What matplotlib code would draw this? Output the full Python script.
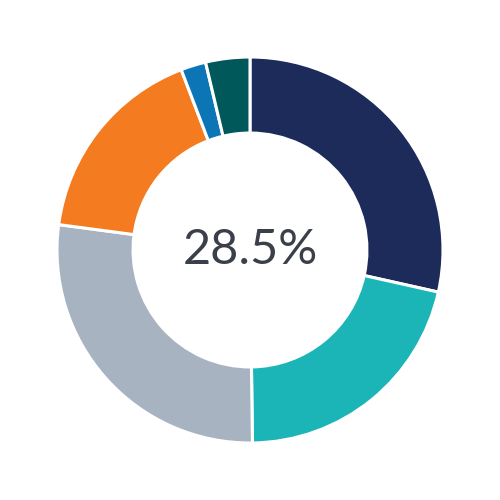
import matplotlib
matplotlib.use("Agg")
from matplotlib import pyplot as plt

# доли сегментов (по часовой стрелке от верха)
shares = [28.5, 21.3, 27.3, 17.1, 2.1, 3.7]
colors = ["#1c2b5a", "#1bb5b8", "#a8b3c2", "#f47b20", "#0b75b6", "#00585a"]
center_label = "28.5%"

fig = plt.figure(figsize=(5, 5), dpi=100)
ax = fig.add_axes([0, 0, 1, 1])
ax.pie(shares, colors=colors, startangle=90, counterclock=False,
       radius=1.0, wedgeprops=dict(width=0.394, edgecolor="white", linewidth=2.2))
ax.text(0, 0, center_label, ha="center", va="center", fontsize=35,
        color="#3a3f4a", family=["Lato", "DejaVu Sans"])
lim = 250 / 193
ax.set_xlim(-lim, lim)
ax.set_ylim(-lim, lim)
ax.set_aspect("equal")
ax.axis("off")
fig.savefig("out.png", dpi=100, facecolor="white")
